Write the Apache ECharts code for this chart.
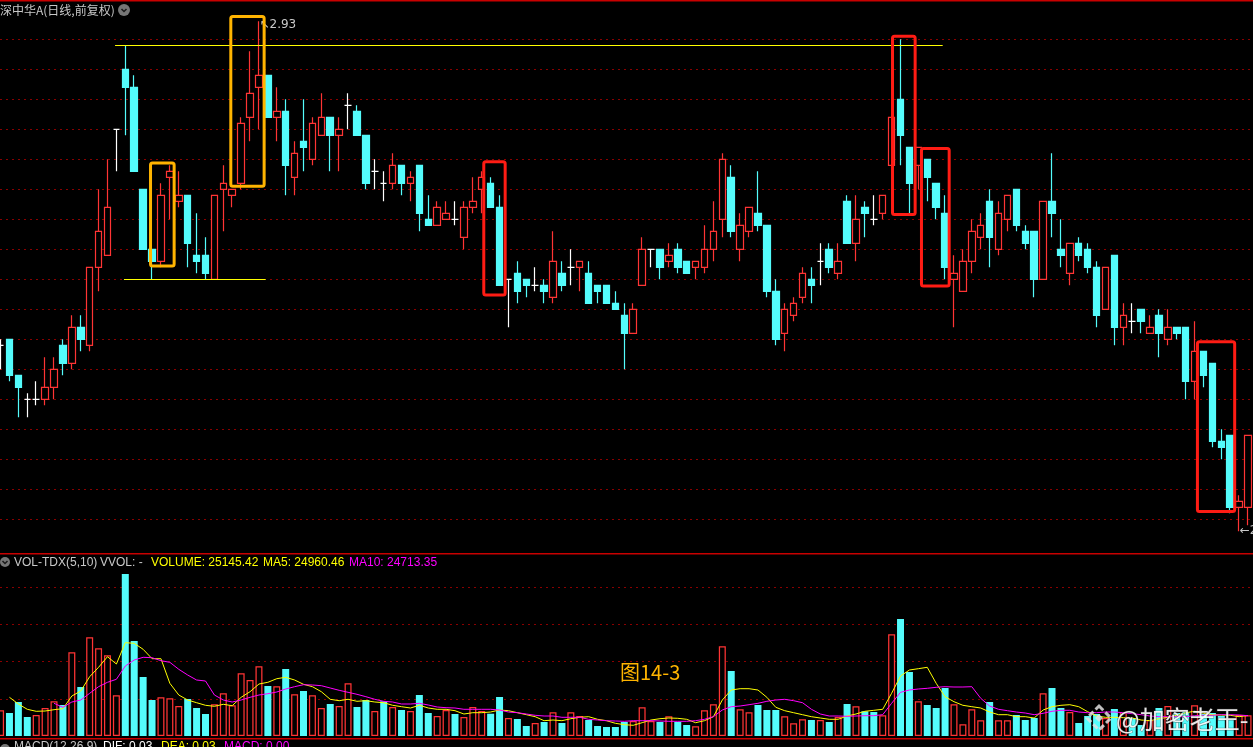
<!DOCTYPE html>
<html><head><meta charset="utf-8">
<script src="https://cdn.jsdelivr.net/npm/echarts@6/dist/echarts.min.js"></script>
<style>html,body{margin:0;padding:0;background:#000;overflow:hidden}#c{width:1253px;height:747px}</style>
</head><body><div id="c"></div>
<script>
// ---- price data (daily K-line, yuan) ----
const openP = [2.39,2.40,2.34,2.30,2.30,2.30,2.32,2.39,2.36,2.42,
2.39,2.52,2.54,2.75,2.85,2.82,2.65,2.55,2.53,2.67,
2.63,2.64,2.54,2.54,2.50,2.65,2.64,2.66,2.77,2.82,
2.84,2.77,2.78,2.67,2.73,2.70,2.74,2.77,2.74,2.79,
2.78,2.74,2.68,2.66,2.66,2.69,2.66,2.69,2.60,2.59,
2.60,2.60,2.57,2.62,2.65,2.66,2.62,2.50,2.51,2.50,
2.49,2.49,2.47,2.51,2.52,2.52,2.51,2.49,2.49,2.46,
2.44,2.41,2.49,2.55,2.55,2.53,2.55,2.53,2.52,2.52,
2.55,2.60,2.67,2.55,2.58,2.61,2.59,2.48,2.41,2.44,
2.47,2.50,2.53,2.55,2.51,2.63,2.56,2.62,2.60,2.61,
2.69,2.80,2.72,2.69,2.70,2.66,2.61,2.50,2.48,2.53,
2.57,2.63,2.55,2.60,2.65,2.58,2.58,2.50,2.63,2.55,
2.51,2.56,2.55,2.52,2.45,2.54,2.42,2.43,2.45,2.41,
2.44,2.40,2.42,2.42,2.33,2.38,2.36,2.23,2.24,2.12,
2.12];
const closeP = [2.39,2.34,2.32,2.30,2.30,2.32,2.35,2.36,2.42,2.40,
2.52,2.58,2.62,2.75,2.82,2.68,2.55,2.53,2.64,2.68,
2.64,2.56,2.53,2.51,2.64,2.66,2.65,2.76,2.81,2.84,
2.77,2.78,2.69,2.71,2.72,2.76,2.77,2.74,2.75,2.79,
2.74,2.66,2.68,2.66,2.69,2.66,2.67,2.61,2.59,2.62,
2.61,2.60,2.62,2.63,2.67,2.62,2.49,2.50,2.48,2.49,
2.49,2.48,2.53,2.49,2.52,2.53,2.46,2.48,2.46,2.45,
2.41,2.45,2.55,2.55,2.52,2.54,2.52,2.51,2.53,2.55,
2.58,2.70,2.58,2.59,2.62,2.59,2.48,2.40,2.45,2.46,
2.51,2.49,2.53,2.52,2.53,2.56,2.60,2.61,2.60,2.64,
2.77,2.74,2.66,2.72,2.67,2.62,2.52,2.51,2.53,2.58,
2.59,2.57,2.61,2.64,2.59,2.56,2.50,2.63,2.61,2.54,
2.56,2.54,2.52,2.44,2.52,2.42,2.44,2.43,2.43,2.42,
2.41,2.42,2.41,2.33,2.38,2.34,2.23,2.22,2.12,2.13,
2.24];
const lowP = [2.35,2.33,2.27,2.27,2.29,2.29,2.30,2.34,2.35,2.38,
2.38,2.48,2.54,2.68,2.74,2.68,2.55,2.50,2.52,2.60,
2.62,2.52,2.51,2.50,2.50,2.58,2.62,2.65,2.73,2.75,
2.77,2.73,2.64,2.64,2.68,2.69,2.74,2.68,2.68,2.75,
2.74,2.65,2.65,2.63,2.65,2.64,2.63,2.58,2.59,2.59,
2.60,2.59,2.55,2.61,2.61,2.62,2.49,2.42,2.46,2.47,
2.48,2.46,2.46,2.48,2.49,2.48,2.46,2.46,2.46,2.45,
2.35,2.41,2.49,2.52,2.50,2.52,2.51,2.51,2.50,2.51,
2.53,2.57,2.57,2.53,2.57,2.58,2.47,2.39,2.38,2.43,
2.46,2.46,2.49,2.51,2.50,2.56,2.53,2.57,2.59,2.60,
2.69,2.69,2.61,2.65,2.63,2.60,2.50,2.42,2.48,2.51,
2.55,2.52,2.54,2.58,2.58,2.55,2.47,2.50,2.57,2.52,
2.49,2.53,2.51,2.42,2.45,2.39,2.39,2.41,2.41,2.41,
2.37,2.39,2.40,2.30,2.30,2.32,2.22,2.20,2.11,2.08,
2.09];
const highP = [2.40,2.40,2.34,2.31,2.33,2.37,2.37,2.40,2.44,2.44,
2.52,2.65,2.70,2.75,2.89,2.84,2.65,2.55,2.66,2.69,
2.68,2.64,2.61,2.57,2.64,2.69,2.65,2.77,2.88,2.93,
2.84,2.82,2.80,2.73,2.80,2.77,2.81,2.77,2.77,2.81,
2.79,2.74,2.70,2.68,2.71,2.69,2.68,2.69,2.64,2.63,
2.63,2.63,2.63,2.67,2.68,2.67,2.64,2.50,2.53,2.50,
2.52,2.50,2.58,2.53,2.55,2.53,2.53,2.49,2.49,2.48,
2.46,2.46,2.57,2.55,2.55,2.56,2.56,2.53,2.53,2.59,
2.63,2.71,2.69,2.61,2.62,2.68,2.59,2.50,2.46,2.47,
2.52,2.52,2.56,2.56,2.56,2.64,2.64,2.63,2.64,2.64,
2.77,2.90,2.72,2.72,2.70,2.66,2.64,2.54,2.55,2.60,
2.61,2.65,2.63,2.64,2.65,2.59,2.58,2.63,2.71,2.60,
2.56,2.57,2.56,2.53,2.52,2.54,2.46,2.46,2.45,2.44,
2.45,2.45,2.42,2.42,2.43,2.38,2.36,2.25,2.24,2.14,
2.24];
// ---- volume data ----
const volume = [31225,27945,41310,23085,25515,34020,42160,37665,101695,59535,
119920,106555,98050,49450,196830,115425,71685,43740,47020,45805,
36450,44955,34020,26730,38515,51880,37300,76180,68040,84685,
60750,60385,81405,50665,54675,49450,34020,38880,36450,64030,
35235,43740,30375,42160,35235,31590,30375,49815,27945,24300,
31590,26730,23085,35235,30375,27095,47385,21870,20655,12150,
15795,17010,28795,15795,28795,24300,19440,12150,10935,10935,
17010,18225,34870,18225,17010,23935,17010,13365,11785,31225,
38515,108985,78975,32440,28795,37665,31590,31590,23935,15430,
20290,19440,19440,17010,23085,38880,36085,30010,29160,25150,
123565,142155,77760,42160,37665,34020,58320,38515,14215,32440,
19075,41310,19075,19075,25515,19440,21870,51880,58320,34020,
29160,15795,24300,26730,21870,32805,29160,21870,13365,19440,
34020,36450,27945,29160,37300,26730,27945,24300,19440,25515,
25145.42];
const volUp = [1,0,0,0,1,1,1,0,1,0, 1,1,1,1,0,0,0,0,1,1, 1,0,0,0,1,1,1,1,1,1,
0,1,0,1,0,1,1,0,1,1, 0,0,1,0,1,0,1,0,0,1, 1,0,1,1,1,0,0,1,0,0,
1,0,1,0,1,1,0,0,0,0, 0,1,1,1,0,1,0,0,1,1, 1,1,0,1,1,0,0,0,1,1,
1,0,1,0,1,0,1,0,0,1, 1,0,0,1,0,0,0,1,1,1, 1,0,1,1,0,0,0,1,0,0,
1,0,0,0,1,0,1,0,0,1, 0,1,0,0,1,0,0,0,0,1, 1];
const ma5 = [null,47020,38880,32440,30010,30375,31955,33170,48600,54675,
72050,83470,96350,87480,113360,112630,105340,93920,93920,64030,
49815,43740,40460,37300,36085,38515,36815,47020,53825,63180,
65245,69620,71320,68040,62815,59900,53825,44590,42890,44590,
42160,42890,41310,40460,37300,35600,34020,37300,34020,32440,
32440,30740,26730,28310,28310,29160,31590,30740,28310,25880,
23450,18590,19440,18590,21020,22720,23450,20290,18590,15430,
13730,13000,16160,19440,21020,21870,21505,20290,16160,18590,
23450,43740,55890,57470,57470,55890,47020,34870,30740,28310,
25880,23450,21870,20290,20290,24300,26730,30010,31225,32440,
51880,72900,80190,81770,83470,64030,47750,41675,37300,35600,
34020,29160,25880,25880,23450,23450,21870,31590,35600,37300,
38030,35600,29525,24300,22720,22720,22235,21870,19440,18590,
21020,22720,25150,28310,30010,27580,25880,25515,25150,23450,
24960.46];
const ma10 = [null,null,null,null,null,null,39730,34870,41310,43740,
51880,59900,65245,68890,85050,92340,95620,95135,91490,89545,
81040,74115,68040,66825,49815,43740,41310,43740,47020,49815,
51395,53460,57105,59900,62330,61965,61115,58320,55525,53095,
50665,47750,44590,42160,41310,38880,38880,39730,37665,35235,
34385,34020,32440,32440,32440,32440,31590,29160,28310,26730,
25150,24300,24300,22720,22720,22720,20290,19440,18590,18225,
17860,18590,18590,18590,18225,17860,17860,17860,18590,20290,
23450,31590,35600,36450,38030,39730,42160,43740,44590,42890,
40460,32440,26730,24300,24300,23935,24300,24665,24665,25880,
39730,53095,55890,57105,57955,59170,59900,59535,59535,59900,
45805,36450,32440,30740,29160,27945,25880,27580,30010,31225,
31225,29160,28310,28310,29160,29160,28310,27095,25880,24300,
23450,23450,23450,23450,24665,25150,25150,25880,25880,25515,
24713.35];
const categories = openP.map((_, i) => 'D' + (i + 1));
// gridline values (tick levels)
const priceGrid = [2.90,2.85,2.80,2.75,2.70,2.65,2.60,2.55,2.50,2.45,2.40,2.35,2.30,2.25,2.20,2.15,2.10];
const volGrid = [45400,90600,135800,181000];
// annotations in data space (index, price)
const levelLines = [{price:2.89, from:12.85, to:105.73}, {price:2.50, from:13.85, to:29.75}];
const boxes = [
  {from:16.83, to:19.48, hi:2.694, lo:2.522, kind:'o'},
  {from:25.84, to:29.58, hi:2.938, lo:2.655, kind:'o'},
  {from:54.23, to:56.63, hi:2.696, lo:2.474, kind:'r'},
  {from:100.10, to:102.64, hi:2.905, lo:2.608, kind:'r'},
  {from:103.35, to:106.46, hi:2.718, lo:2.489, kind:'r'},
  {from:134.32, to:138.50, hi:2.396, lo:2.113, kind:'r'}
];

const RED = '#ff3434', CYAN = '#54fcfc';
const candleData = openP.map((o, i) => {
  const v = [o, closeP[i], lowP[i], highP[i]];
  if (o === closeP[i]) return {value: v, itemStyle: {color:'#fff', color0:'#fff', borderColor:'#fff', borderColor0:'#fff'}};
  return v;
});
const volData = volume.map((v, i) => volUp[i]
  ? {value: v, itemStyle: {color:'#000', borderColor: RED, borderWidth: 1.25}}
  : {value: v, itemStyle: {color: CYAN, borderWidth: 0}});

const chart = echarts.init(document.getElementById('c'), null, {renderer: 'canvas'});
const option = {
  backgroundColor: '#000',
  animation: false,
  grid: [
    {left: -3.9, right: 0.5, top: 9.3, height: 540, outerBoundsMode: 'none'},
    {left: -3.9, right: 0.5, top: 556, height: 180, outerBoundsMode: 'none'}
  ],
  xAxis: [
    {type: 'category', gridIndex: 0, data: categories, show: false},
    {type: 'category', gridIndex: 1, data: categories, show: false}
  ],
  yAxis: [
    {type: 'value', gridIndex: 0, min: 2.05, max: 2.95, show: false, splitLine: {show: false}},
    {type: 'value', gridIndex: 1, min: 0, max: 218700, show: false, splitLine: {show: false}}
  ],
  series: [
    {
      type: 'candlestick', xAxisIndex: 0, yAxisIndex: 0, barWidth: 7, z: 3,
      data: candleData,
      itemStyle: {color: '#000', color0: CYAN, borderColor: RED, borderColor0: CYAN, borderWidth: 1.2, borderColorDoji: '#fff'},
      markPoint: {
        symbol: 'circle', symbolSize: 1, silent: true,
        itemStyle: {color: 'rgba(0,0,0,0)'},
        label: {show: true, color: '#c8c8c8', fontSize: 12, fontFamily: 'DejaVu Sans'},
        data: [
          {type: 'max', valueDim: 'highest', label: {position: 'right', distance: 0, offset: [0, 4], formatter: p => '↖' + Number(p.value).toFixed(2)}},
          {type: 'min', valueDim: 'lowest', label: {position: 'right', distance: 0, formatter: p => '←' + Number(p.value).toFixed(2)}}
        ]
      }
    },
    {type: 'bar', xAxisIndex: 1, yAxisIndex: 1, barWidth: 7, data: volData, z: 3},
    {type: 'line', xAxisIndex: 1, yAxisIndex: 1, data: ma5, symbol: 'none', z: 4, lineStyle: {color: '#ffff00', width: 1}},
    {type: 'line', xAxisIndex: 1, yAxisIndex: 1, data: ma10, symbol: 'none', z: 4, lineStyle: {color: '#ff00ff', width: 1}}
  ]
};
chart.setOption(option);

const P = (i, p) => chart.convertToPixel({xAxisIndex: 0, yAxisIndex: 0}, [i, p]);
const V = (i, v) => chart.convertToPixel({xAxisIndex: 1, yAxisIndex: 1}, [i, v]);
const x0 = P(0, 2.5)[0], band = P(1, 2.5)[0] - x0;
const fx = idx => x0 + idx * band;
const W = 1253;
const g = [];
const dotted = (y) => g.push({type: 'line', z: 0, silent: true,
  shape: {x1: 0, y1: y, x2: W, y2: y}, style: {stroke: '#8a0000', lineWidth: 1, lineDash: [2, 4]}});
const bandRect = (x, y, w, h, fill, z) => g.push({type: 'rect', z: z, silent: true,
  shape: {x: x, y: y, width: w, height: h}, style: {fill: fill}});
priceGrid.forEach(v => dotted(Math.round(P(0, v)[1]) + 0.5));
volGrid.forEach(v => dotted(Math.round(V(0, v)[1]) + 0.5));
// panel borders
bandRect(0, 0, W, 1.5, '#c80000', 100);
bandRect(0, 553, W, 1.5, '#c80000', 100);
bandRect(0, 738, W, 1.5, '#c80000', 100);
// level lines (yellow)
levelLines.forEach(l => {
  const y = Math.round(P(0, l.price)[1]);
  bandRect(fx(l.from), y, fx(l.to) - fx(l.from), 1, '#ffff00', 90);
});
// boxes
boxes.forEach(b => {
  const xl = fx(b.from), xr = fx(b.to), yt = P(0, b.hi)[1], yb = P(0, b.lo)[1];
  g.push({type: 'rect', z: 95, silent: true, shape: {x: xl, y: yt, width: xr - xl, height: yb - yt, r: 2},
    style: {fill: 'none', stroke: b.kind === 'o' ? '#ffb400' : '#ff1c14', lineWidth: 3}});
});
// icons
const icon = (cx, cy, r) => {
  g.push({type: 'circle', z: 100, silent: true, shape: {cx: cx, cy: cy, r: r}, style: {fill: '#767676'}});
  g.push({type: 'polyline', z: 101, silent: true, shape: {points: [[cx - 2.5, cy - 1], [cx, cy + 1.5], [cx + 2.5, cy - 1]]}, style: {stroke: '#1a1a1a', lineWidth: 1.5, fill: null}});
};
icon(124, 10, 6);
icon(5, 562, 5);
icon(5, 749, 5);
const txt = (s, x, y, fill, size, fam, va) => g.push({type: 'text', z: 100, silent: true,
  style: {text: s, x: x, y: y, fill: fill, fontSize: size, fontFamily: fam, verticalAlign: va || 'middle'}});
txt('深中华A(日线,前复权)', 0, 10, '#c8c8c8', 12, 'Noto Sans CJK SC');
const LS = 'Liberation Sans';
txt('VOL-TDX(5,10)', 14, 562.5, '#c8c8c8', 12, LS);
txt('VVOL: -', 100, 562.5, '#c8c8c8', 12, LS);
txt('VOLUME: ' + volume[volume.length - 1].toFixed(2), 151, 562.5, '#ffff00', 12, LS);
txt('MA5: ' + ma5[ma5.length - 1].toFixed(2), 263, 562.5, '#ffff00', 12, LS);
txt('MA10: ' + ma10[ma10.length - 1].toFixed(2), 349, 562.5, '#ff00ff', 12, LS);
txt('MACD(12,26,9)', 14, 741, '#c8c8c8', 12, LS, 'top');
txt('DIF: 0.03', 103, 741, '#ffffff', 12, LS, 'top');
txt('DEA: 0.03', 161, 741, '#ffff00', 12, LS, 'top');
txt('MACD: 0.00', 224, 741, '#ff00ff', 12, LS, 'top');
txt('图14-3', 620, 672, '#ffb400', 20, 'Noto Sans CJK SC');
// watermark
g.push({type: 'polygon', z: 110, silent: true, shape: {points: [[1099, 706], [1111, 718], [1099, 730], [1087, 718]]},
  style: {fill: null, stroke: 'rgba(225,225,225,0.85)', lineWidth: 3, lineDash: [6, 3]}});
g.push({type: 'polygon', z: 110, silent: true, shape: {points: [[1099, 714], [1103, 718], [1099, 722], [1095, 718]]},
  style: {fill: 'rgba(225,225,225,0.85)'}});
g.push({type: 'text', z: 110, silent: true, style: {text: '@加密老王-', x: 1116, y: 719, fill: 'rgba(255,255,255,0.9)',
  fontSize: 25, fontFamily: 'Noto Sans CJK SC', verticalAlign: 'middle', stroke: 'rgba(60,60,60,0.6)', lineWidth: 1}});
chart.setOption({graphic: {elements: g}});
</script>
</body></html>
